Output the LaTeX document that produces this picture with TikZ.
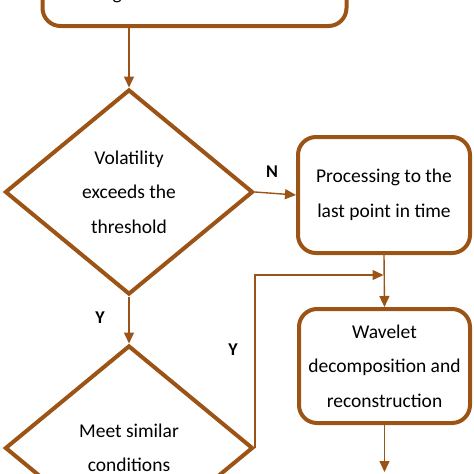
\documentclass[tikz,border=0pt]{standalone}
\usepackage{fontspec}
\setmainfont{Carlito}
\usetikzlibrary{shapes.geometric,arrows.meta}
\definecolor{rust}{RGB}{156,84,22}

\begin{document}
\begin{tikzpicture}[x=1pt,y=-1pt,
    every node/.style={font=\fontsize{19.5}{34.5}\selectfont, align=center, inner sep=0pt},
    decision/.style={diamond, draw=rust, line width=4pt, minimum width=248pt, minimum height=205pt},
    stepbox/.style={rectangle, rounded corners=18pt, draw=rust, line width=4pt},
    flow/.style={draw=rust, line width=1.4pt, -{Triangle[width=10pt,length=11pt]}},
    yn/.style={font=\fontsize{18}{18}\selectfont\bfseries}]
                  \useasboundingbox (0,0) rectangle (474,474);
                  \clip (0,0) rectangle (474,474);
                  \node [stepbox, minimum width=304pt, minimum height=64pt] (knn) at (194.5,-6) {K-neighborhood mean method};
                  \node [decision] (vol) at (129,192) {Volatility\\exceeds the\\threshold};
                  \node [decision] (cond) at (129,448) {Meet similar\\conditions};
                  \node [stepbox, minimum width=172pt, minimum height=116pt] (proc) at (384,195) {Processing to the\\last point in time};
                  \node [stepbox, minimum width=171pt, minimum height=114pt] (wave) at (384.5,366) {Wavelet\\decomposition and\\reconstruction};
                  \coordinate (join) at (383.5,275);
                  \coordinate (out) at (384.5,472);
                  \draw [flow] (vol.north |- knn.south) -- (vol.north);
                  \draw [flow] (vol.east) -- (proc.west);
                  \node [yn] (no) at (272,172) {N};
                  \draw [flow] (vol.south) -- (cond.north);
                  \node [yn] (yes1) at (100,318) {Y};
                  \draw [flow] (proc.south) -- (wave.north);
                  \draw [flow] (cond.east) |- (join);
                  \node [yn] (yes2) at (233,350) {Y};
                  \draw [flow] (wave.south) -- (out);
              \end{tikzpicture}
\end{document}
